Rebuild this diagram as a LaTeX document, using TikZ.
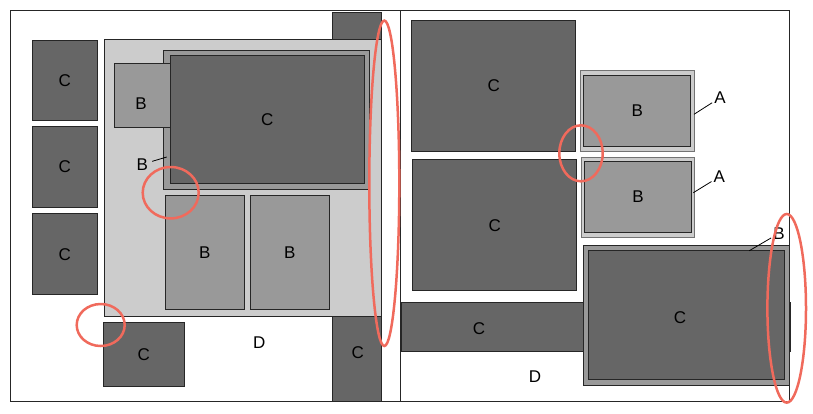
\documentclass[tikz,border=0pt]{standalone}
\usepackage{fontspec}
\setmainfont{Liberation Sans}
\definecolor{cgrey}{HTML}{666666}
\definecolor{bgrey}{HTML}{999999}
\definecolor{agrey}{HTML}{CCCCCC}
\definecolor{ringred}{HTML}{F06A5C}
\begin{document}
\begin{tikzpicture}[x=1pt,y=-1pt,
  blk/.style={draw=black!85,line width=1pt,inner sep=0pt,outer sep=0pt},
  cbox/.style={blk,fill=cgrey},
  bbox/.style={blk,fill=bgrey},
  abox/.style={draw=black!55,line width=1pt,fill=agrey,inner sep=0pt,outer sep=0pt},
  lbl/.style={inner sep=2pt,font=\fontsize{17}{20}\selectfont},
  lead/.style={draw=black,line width=0.8pt},
  ring/.style={draw=ringred,line width=2.5pt},
  every node/.append style={font=\fontsize{17}{20}\selectfont}]
  \useasboundingbox (0,0) rectangle (813,413);

  % the two panels
  \draw[black!85,line width=1pt] (10.5,10.7) rectangle (400,401.7);
  \draw[black!85,line width=1pt] (400,10.7) rectangle (789.3,401.7);

  % left panel
  \node[cbox,minimum width=49,minimum height=389] (strip) at (357.2,207.2) {};
  \node[lbl] (stripC) at (357.7,352.3) {C};
  \node[abox,draw=black!85,minimum width=276.7,minimum height=277.4] (reg) at (242.7,178) {};
  \node[lbl] (Dl) at (259.3,342.3) {D};
  \node[cbox,minimum width=64.7,minimum height=80.4] (lc1) at (64.7,80.5) {C};
  \node[cbox,minimum width=64.7,minimum height=80.7] (lc2) at (64.7,166.7) {C};
  \node[cbox,minimum width=64.7,minimum height=81] (lc3) at (64.7,254.2) {C};
  \node[cbox,minimum width=80.7,minimum height=64.4] (cbl) at (143.7,354.5) {C};
  \node[bbox,minimum width=206,minimum height=139] (bfr) at (266.3,119.5) {};
  \node[bbox,minimum width=56,minimum height=64] (bsm) at (142.3,95.7) {};
  \node[lbl] (bsmL) at (141,103.3) {B};
  \node[cbox,minimum width=194,minimum height=128] (cbig) at (267.3,119.7) {C};
  \node[lbl,inner sep=4pt] (bfrL) at (142.3,164.3) {B};
  \coordinate (bfrT) at (166.7,157);
  \draw[lead] (bfrL) -- (bfrT);
  \node[bbox,minimum width=79.3,minimum height=114.3] (b1) at (204.7,252.8) {B};
  \node[bbox,minimum width=79.3,minimum height=114.3] (b2) at (289.7,252.8) {B};

  % right panel
  \node[cbox,minimum width=164,minimum height=131] (rc1) at (493.7,85.5) {C};
  \node[cbox,minimum width=164,minimum height=131] (rc2) at (494.7,225.2) {C};
  \node[abox,minimum width=113.7,minimum height=80.3] (a1f) at (637.2,110.9) {};
  \node[bbox,minimum width=107,minimum height=71.3] (a1b) at (637.2,110.7) {B};
  \node[abox,minimum width=113.3,minimum height=80.4] (a2f) at (637.7,197.5) {};
  \node[bbox,minimum width=107.4,minimum height=70.6] (a2b) at (638,197) {B};
  \node[cbox,minimum width=389.7,minimum height=49.4] (rstrip) at (595.9,327) {};
  \node[lbl] (rstripC) at (479,328.3) {C};
  \node[bbox,minimum width=206,minimum height=139.3] (brf) at (686.3,315.4) {};
  \node[cbox,minimum width=195.3,minimum height=128.6] (brc) at (686.4,315) {};
  \node[lbl] (brcL) at (680,317.3) {C};
  \node[lbl] (Dr) at (535,376.7) {D};

  \node[lbl] (a1L) at (720,97.7) {A};
  \coordinate (a1T) at (694,114.3);
  \draw[lead] (a1L) -- (a1T);
  \node[lbl] (a2L) at (719.3,176.7) {A};
  \coordinate (a2T) at (693.3,192.7);
  \draw[lead] (a2L) -- (a2T);
  \node[lbl] (brfL) at (779,233.3) {B};
  \coordinate (brfT) at (749.3,250.7);
  \draw[lead] (brfL) -- (brfT);

  % red rings
  \draw[ring] (170.7,192.7) ellipse [x radius=28pt,y radius=25.7pt];
  \draw[ring] (100.7,325) ellipse [x radius=24pt,y radius=21pt];
  \draw[ring] (384.3,183.3) ellipse [x radius=15pt,y radius=162.7pt];
  \draw[ring] (581,153.3) ellipse [x radius=21.7pt,y radius=28pt];
  \draw[ring] (786.7,308.3) ellipse [x radius=19.3pt,y radius=94.3pt];
\end{tikzpicture}
\end{document}
